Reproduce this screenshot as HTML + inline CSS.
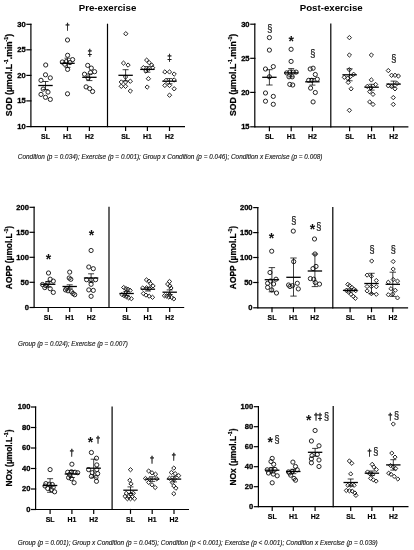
<!DOCTYPE html><html><head><meta charset="utf-8"><title>Figure</title><style>html,body{margin:0;padding:0;background:#fff;}svg{display:block}</style></head><body>
<svg width="414" height="550" viewBox="0 0 414 550">
<rect width="414" height="550" fill="#fff"/>
<text x="78.7" y="11" font-family='"Liberation Sans", Arial, sans-serif' font-weight="bold" font-size="9.7" fill="#000">Pre-exercise</text>
<text x="299.7" y="10.9" font-family='"Liberation Sans", Arial, sans-serif' font-weight="bold" font-size="9.7" fill="#000">Post-exercise</text>
<g stroke="#000" stroke-width="1.2" fill="none" stroke-linecap="square">
<path d="M30.9 24.3V126.6H184.4"/>
<path d="M107.5 24.3V126.6"/>
<path d="M26.9 24.3H30.9"/>
<path d="M26.9 49.8H30.9"/>
<path d="M26.9 75.4H30.9"/>
<path d="M26.9 100.9H30.9"/>
<path d="M26.9 126.6H30.9"/>
<path d="M45.5 126.6V130.4"/>
<path d="M67.5 126.6V130.4"/>
<path d="M89.4 126.6V130.4"/>
<path d="M125.6 126.6V130.4"/>
<path d="M147.4 126.6V130.4"/>
<path d="M169.5 126.6V130.4"/>
</g>
<g font-family='"Liberation Sans", Arial, sans-serif' font-weight="bold" font-size="7.2" fill="#000" stroke="#000" stroke-width="0.2">
<text x="25.7" y="26.7" text-anchor="end" font-size="7.6" stroke-width="0.3">30</text>
<text x="25.7" y="52.199999999999996" text-anchor="end" font-size="7.6" stroke-width="0.3">25</text>
<text x="25.7" y="77.80000000000001" text-anchor="end" font-size="7.6" stroke-width="0.3">20</text>
<text x="25.7" y="103.30000000000001" text-anchor="end" font-size="7.6" stroke-width="0.3">15</text>
<text x="25.7" y="129.0" text-anchor="end" font-size="7.6" stroke-width="0.3">10</text>
<text transform="translate(45.5,139.20) scale(0.9,1)" text-anchor="middle" font-size="7.7">SL</text>
<text transform="translate(67.5,139.20) scale(0.9,1)" text-anchor="middle" font-size="7.7">H1</text>
<text transform="translate(89.4,139.20) scale(0.9,1)" text-anchor="middle" font-size="7.7">H2</text>
<text transform="translate(125.6,139.20) scale(0.9,1)" text-anchor="middle" font-size="7.7">SL</text>
<text transform="translate(147.4,139.20) scale(0.9,1)" text-anchor="middle" font-size="7.7">H1</text>
<text transform="translate(169.5,139.20) scale(0.9,1)" text-anchor="middle" font-size="7.7">H2</text>
</g>
<text transform="translate(12.2,75.0) rotate(-90)" text-anchor="middle" font-family='"Liberation Sans", Arial, sans-serif' font-weight="bold" font-size="8.7" fill="#000" stroke="#000" stroke-width="0.22">SOD (µmol.L<tspan dy="-4.1" font-size="5.2">-1</tspan><tspan dy="4.1">.min</tspan><tspan dy="-4.1" font-size="5.2">-1</tspan><tspan dy="4.1">)</tspan></text>
<g fill="none" stroke="#1a1a1a" stroke-width="0.95">
<circle cx="45.7" cy="65.0" r="2.1"/>
<circle cx="45.5" cy="74.8" r="2.1"/>
<circle cx="50.3" cy="77.9" r="2.1"/>
<circle cx="41.0" cy="80.3" r="2.1"/>
<circle cx="43.2" cy="89.1" r="2.1"/>
<circle cx="48.0" cy="92.1" r="2.1"/>
<circle cx="41.0" cy="94.4" r="2.1"/>
<circle cx="45.5" cy="97.3" r="2.1"/>
<circle cx="50.3" cy="99.4" r="2.1"/>
</g>
<g stroke="#000" fill="none">
<path stroke-width="0.75" d="M45.5 81.5V89.5M42.5 81.5H48.5M42.5 89.5H48.5"/>
<path stroke-width="1.3" d="M38.3 85.5H52.7"/>
</g>
<g fill="none" stroke="#1a1a1a" stroke-width="0.95">
<circle cx="67.5" cy="40.0" r="2.1"/>
<circle cx="67.6" cy="55.3" r="2.1"/>
<circle cx="72.6" cy="59.6" r="2.1"/>
<circle cx="62.3" cy="62.0" r="2.1"/>
<circle cx="66.3" cy="61.6" r="2.1"/>
<circle cx="70.0" cy="62.6" r="2.1"/>
<circle cx="64.8" cy="64.2" r="2.1"/>
<circle cx="67.6" cy="69.4" r="2.1"/>
<circle cx="67.5" cy="93.8" r="2.1"/>
</g>
<g stroke="#000" fill="none">
<path stroke-width="0.75" d="M67.5 58.2V67.3M64.5 58.2H70.5M64.5 67.3H70.5"/>
<path stroke-width="1.3" d="M60.3 63.3H74.7"/>
</g>
<text x="65.34" y="29.72" font-family='"Liberation Sans", Arial, sans-serif' font-weight="normal" font-size="8.2" fill="#111" stroke="#111" stroke-width="0.35">†</text>
<g fill="none" stroke="#1a1a1a" stroke-width="0.95">
<circle cx="87.7" cy="65.4" r="2.1"/>
<circle cx="91.3" cy="68.1" r="2.1"/>
<circle cx="94.6" cy="71.7" r="2.1"/>
<circle cx="90.5" cy="72.6" r="2.1"/>
<circle cx="84.5" cy="74.2" r="2.1"/>
<circle cx="88.1" cy="78.0" r="2.1"/>
<circle cx="86.1" cy="86.9" r="2.1"/>
<circle cx="89.7" cy="88.6" r="2.1"/>
<circle cx="92.6" cy="91.5" r="2.1"/>
</g>
<g stroke="#000" fill="none">
<path stroke-width="0.75" d="M89.4 74.0V80.6M86.4 74.0H92.4M86.4 80.6H92.4"/>
<path stroke-width="1.3" d="M82.2 77.3H96.60000000000001"/>
</g>
<text x="87.45" y="55.82" font-family='"Liberation Sans", Arial, sans-serif' font-weight="normal" font-size="8.2" fill="#111" stroke="#111" stroke-width="0.35">‡</text>
<g fill="none" stroke="#1a1a1a" stroke-width="0.95">
<path d="M125.8 31.6L128.0 33.7L125.8 35.9L123.6 33.7Z"/>
<path d="M123.5 61.0L125.7 63.1L123.5 65.2L121.3 63.1Z"/>
<path d="M128.1 62.9L130.2 65.1L128.1 67.2L125.9 65.1Z"/>
<path d="M125.5 74.8L127.7 77.0L125.5 79.2L123.3 77.0Z"/>
<path d="M130.3 79.0L132.5 81.2L130.3 83.4L128.2 81.2Z"/>
<path d="M121.3 79.8L123.5 82.0L121.3 84.2L119.1 82.0Z"/>
<path d="M125.5 79.8L127.7 82.0L125.5 84.2L123.3 82.0Z"/>
<path d="M121.3 84.1L123.5 86.3L121.3 88.5L119.1 86.3Z"/>
<path d="M125.5 84.1L127.7 86.3L125.5 88.5L123.3 86.3Z"/>
<path d="M130.3 88.8L132.5 91.0L130.3 93.2L128.2 91.0Z"/>
</g>
<g stroke="#000" fill="none">
<path stroke-width="0.75" d="M125.6 69.7V80.9M122.6 69.7H128.6M122.6 80.9H128.6"/>
<path stroke-width="1.3" d="M118.39999999999999 75.3H132.79999999999998"/>
</g>
<g fill="none" stroke="#1a1a1a" stroke-width="0.95">
<path d="M146.7 58.0L148.8 60.1L146.7 62.2L144.5 60.1Z"/>
<path d="M149.2 60.5L151.3 62.6L149.2 64.8L147.0 62.6Z"/>
<path d="M151.7 62.9L153.8 65.1L151.7 67.2L149.5 65.1Z"/>
<path d="M152.6 65.5L154.8 67.7L152.6 69.9L150.4 67.7Z"/>
<path d="M143.3 65.5L145.5 67.7L143.3 69.9L141.2 67.7Z"/>
<path d="M148.0 67.3L150.2 69.5L148.0 71.7L145.8 69.5Z"/>
<path d="M145.8 68.9L148.0 71.1L145.8 73.2L143.7 71.1Z"/>
<path d="M148.4 76.5L150.6 78.7L148.4 80.9L146.2 78.7Z"/>
<path d="M147.2 84.9L149.3 87.1L147.2 89.2L145.0 87.1Z"/>
</g>
<g stroke="#000" fill="none">
<path stroke-width="0.75" d="M147.4 66.6V72.2M144.4 66.6H150.4M144.4 72.2H150.4"/>
<path stroke-width="1.3" d="M140.20000000000002 69.4H154.6"/>
</g>
<g fill="none" stroke="#1a1a1a" stroke-width="0.95">
<path d="M164.8 69.8L167.0 71.9L164.8 74.1L162.7 71.9Z"/>
<path d="M169.5 69.8L171.7 71.9L169.5 74.1L167.3 71.9Z"/>
<path d="M174.2 71.9L176.3 74.1L174.2 76.2L172.0 74.1Z"/>
<path d="M174.2 77.8L176.3 80.0L174.2 82.2L172.0 80.0Z"/>
<path d="M166.0 78.2L168.2 80.4L166.0 82.6L163.8 80.4Z"/>
<path d="M164.8 83.2L167.0 85.4L164.8 87.6L162.7 85.4Z"/>
<path d="M169.5 83.2L171.7 85.4L169.5 87.6L167.3 85.4Z"/>
<path d="M174.2 86.6L176.3 88.8L174.2 91.0L172.0 88.8Z"/>
<path d="M169.5 93.0L171.7 95.2L169.5 97.4L167.3 95.2Z"/>
</g>
<g stroke="#000" fill="none">
<path stroke-width="0.75" d="M169.5 78.6V83.8M166.5 78.6H172.5M166.5 83.8H172.5"/>
<path stroke-width="1.3" d="M162.3 81.2H176.7"/>
</g>
<text x="167.34" y="61.32" font-family='"Liberation Sans", Arial, sans-serif' font-weight="normal" font-size="8.2" fill="#111" stroke="#111" stroke-width="0.35">‡</text>
<g stroke="#000" stroke-width="1.2" fill="none" stroke-linecap="square">
<path d="M254.8 24.2V126.8H407.8"/>
<path d="M330.8 24.2V126.8"/>
<path d="M250.8 24.2H254.8"/>
<path d="M250.8 58.3H254.8"/>
<path d="M250.8 92.4H254.8"/>
<path d="M250.8 126.8H254.8"/>
<path d="M269.4 126.8V130.6"/>
<path d="M291.2 126.8V130.6"/>
<path d="M312.4 126.8V130.6"/>
<path d="M349.6 126.8V130.6"/>
<path d="M371.6 126.8V130.6"/>
<path d="M393.6 126.8V130.6"/>
</g>
<g font-family='"Liberation Sans", Arial, sans-serif' font-weight="bold" font-size="7.2" fill="#000" stroke="#000" stroke-width="0.2">
<text x="249.60000000000002" y="26.599999999999998" text-anchor="end" font-size="7.6" stroke-width="0.3">30</text>
<text x="249.60000000000002" y="60.699999999999996" text-anchor="end" font-size="7.6" stroke-width="0.3">25</text>
<text x="249.60000000000002" y="94.80000000000001" text-anchor="end" font-size="7.6" stroke-width="0.3">20</text>
<text x="249.60000000000002" y="129.2" text-anchor="end" font-size="7.6" stroke-width="0.3">15</text>
<text transform="translate(269.4,139.40) scale(0.9,1)" text-anchor="middle" font-size="7.7">SL</text>
<text transform="translate(291.2,139.40) scale(0.9,1)" text-anchor="middle" font-size="7.7">H1</text>
<text transform="translate(312.4,139.40) scale(0.9,1)" text-anchor="middle" font-size="7.7">H2</text>
<text transform="translate(349.6,139.40) scale(0.9,1)" text-anchor="middle" font-size="7.7">SL</text>
<text transform="translate(371.6,139.40) scale(0.9,1)" text-anchor="middle" font-size="7.7">H1</text>
<text transform="translate(393.6,139.40) scale(0.9,1)" text-anchor="middle" font-size="7.7">H2</text>
</g>
<text transform="translate(236.2,74.9) rotate(-90)" text-anchor="middle" font-family='"Liberation Sans", Arial, sans-serif' font-weight="bold" font-size="8.7" fill="#000" stroke="#000" stroke-width="0.22">SOD (µmol.L<tspan dy="-4.1" font-size="5.2">-1</tspan><tspan dy="4.1">.min</tspan><tspan dy="-4.1" font-size="5.2">-1</tspan><tspan dy="4.1">)</tspan></text>
<g fill="none" stroke="#1a1a1a" stroke-width="0.95">
<circle cx="269.4" cy="37.6" r="2.1"/>
<circle cx="269.4" cy="50.1" r="2.1"/>
<circle cx="265.5" cy="69.0" r="2.1"/>
<circle cx="273.3" cy="66.6" r="2.1"/>
<circle cx="269.4" cy="76.8" r="2.1"/>
<circle cx="265.5" cy="93.0" r="2.1"/>
<circle cx="273.3" cy="96.4" r="2.1"/>
<circle cx="265.5" cy="101.2" r="2.1"/>
<circle cx="273.3" cy="104.3" r="2.1"/>
</g>
<g stroke="#000" fill="none">
<path stroke-width="0.75" d="M269.4 69.7V85.0M266.2 69.7H272.59999999999997M266.2 85.0H272.59999999999997"/>
<path stroke-width="1.3" d="M262.2 77.3H276.59999999999997"/>
</g>
<text transform="translate(267.37,31.91) scale(0.82,1)" font-family='"Liberation Sans", Arial, sans-serif' font-weight="normal" font-size="11.2" fill="#111" stroke="#111" stroke-width="0.2">§</text>
<g fill="none" stroke="#1a1a1a" stroke-width="0.95">
<circle cx="291.1" cy="49.3" r="2.1"/>
<circle cx="291.1" cy="61.4" r="2.1"/>
<circle cx="286.7" cy="72.9" r="2.1"/>
<circle cx="289.8" cy="72.1" r="2.1"/>
<circle cx="293.3" cy="72.1" r="2.1"/>
<circle cx="296.1" cy="72.1" r="2.1"/>
<circle cx="289.0" cy="76.8" r="2.1"/>
<circle cx="292.2" cy="76.8" r="2.1"/>
<circle cx="289.8" cy="84.4" r="2.1"/>
<circle cx="292.7" cy="85.0" r="2.1"/>
</g>
<g stroke="#000" fill="none">
<path stroke-width="0.75" d="M291.2 68.6V76.8M288.2 68.6H294.2M288.2 76.8H294.2"/>
<path stroke-width="1.3" d="M284.0 72.9H298.4"/>
</g>
<text x="288.44" y="45.54" font-family='"Liberation Sans", Arial, sans-serif' font-weight="bold" font-size="14" fill="#111">*</text>
<g fill="none" stroke="#1a1a1a" stroke-width="0.95">
<circle cx="310.2" cy="69.0" r="2.1"/>
<circle cx="313.1" cy="68.2" r="2.1"/>
<circle cx="315.3" cy="74.5" r="2.1"/>
<circle cx="308.7" cy="80.3" r="2.1"/>
<circle cx="311.8" cy="80.3" r="2.1"/>
<circle cx="317.3" cy="79.2" r="2.1"/>
<circle cx="310.6" cy="88.1" r="2.1"/>
<circle cx="315.3" cy="92.5" r="2.1"/>
<circle cx="313.1" cy="101.9" r="2.1"/>
</g>
<g stroke="#000" fill="none">
<path stroke-width="0.75" d="M312.4 78.5V85.1M309.4 78.5H315.4M309.4 85.1H315.4"/>
<path stroke-width="1.3" d="M305.2 81.8H319.59999999999997"/>
</g>
<text transform="translate(310.27,56.91) scale(0.82,1)" font-family='"Liberation Sans", Arial, sans-serif' font-weight="normal" font-size="11.2" fill="#111" stroke="#111" stroke-width="0.2">§</text>
<g fill="none" stroke="#1a1a1a" stroke-width="0.95">
<path d="M349.4 35.5L351.5 37.6L349.4 39.8L347.2 37.6Z"/>
<path d="M349.4 52.9L351.5 55.0L349.4 57.1L347.2 55.0Z"/>
<path d="M349.4 67.5L351.5 69.7L349.4 71.9L347.2 69.7Z"/>
<path d="M353.6 72.1L355.8 74.3L353.6 76.5L351.5 74.3Z"/>
<path d="M344.3 75.1L346.4 77.3L344.3 79.5L342.2 77.3Z"/>
<path d="M347.7 76.0L349.8 78.2L347.7 80.4L345.6 78.2Z"/>
<path d="M350.5 74.3L352.6 76.5L350.5 78.7L348.4 76.5Z"/>
<path d="M348.2 80.2L350.3 82.4L348.2 84.6L346.1 82.4Z"/>
<path d="M351.1 86.6L353.2 88.8L351.1 91.0L349.0 88.8Z"/>
<path d="M349.4 108.1L351.5 110.3L349.4 112.5L347.2 110.3Z"/>
</g>
<g stroke="#000" fill="none">
<path stroke-width="0.75" d="M349.6 68.8V80.8M346.6 68.8H352.6M346.6 80.8H352.6"/>
<path stroke-width="1.3" d="M342.40000000000003 74.8H356.8"/>
</g>
<g fill="none" stroke="#1a1a1a" stroke-width="0.95">
<path d="M371.4 52.9L373.5 55.0L371.4 57.1L369.2 55.0Z"/>
<path d="M371.4 77.8L373.5 79.9L371.4 82.1L369.2 79.9Z"/>
<path d="M375.6 82.3L377.8 84.5L375.6 86.7L373.5 84.5Z"/>
<path d="M367.3 84.2L369.4 86.4L367.3 88.6L365.2 86.4Z"/>
<path d="M371.0 85.6L373.1 87.8L371.0 90.0L368.9 87.8Z"/>
<path d="M369.7 89.5L371.8 91.7L369.7 93.9L367.6 91.7Z"/>
<path d="M373.0 92.1L375.1 94.3L373.0 96.5L370.9 94.3Z"/>
<path d="M369.7 99.8L371.8 101.9L369.7 104.1L367.6 101.9Z"/>
<path d="M373.0 102.2L375.1 104.4L373.0 106.6L370.9 104.4Z"/>
</g>
<g stroke="#000" fill="none">
<path stroke-width="0.75" d="M371.6 84.3V90.1M368.6 84.3H374.6M368.6 90.1H374.6"/>
<path stroke-width="1.3" d="M364.40000000000003 87.2H378.8"/>
</g>
<g fill="none" stroke="#1a1a1a" stroke-width="0.95">
<path d="M388.3 68.4L390.4 70.6L388.3 72.8L386.2 70.6Z"/>
<path d="M391.6 73.1L393.8 75.3L391.6 77.5L389.5 75.3Z"/>
<path d="M395.0 73.1L397.1 75.3L395.0 77.5L392.9 75.3Z"/>
<path d="M398.4 73.8L400.5 76.0L398.4 78.2L396.2 76.0Z"/>
<path d="M388.3 83.6L390.4 85.8L388.3 88.0L386.2 85.8Z"/>
<path d="M391.6 84.4L393.8 86.6L391.6 88.8L389.5 86.6Z"/>
<path d="M395.0 86.6L397.1 88.8L395.0 91.0L392.9 88.8Z"/>
<path d="M393.3 95.4L395.4 97.6L393.3 99.8L391.2 97.6Z"/>
<path d="M393.3 102.2L395.4 104.4L393.3 106.6L391.2 104.4Z"/>
<path d="M397.0 81.3L399.1 83.5L397.0 85.7L394.9 83.5Z"/>
</g>
<g stroke="#000" fill="none">
<path stroke-width="0.75" d="M393.6 81.1V87.1M390.6 81.1H396.6M390.6 87.1H396.6"/>
<path stroke-width="1.3" d="M386.40000000000003 84.1H400.8"/>
</g>
<text transform="translate(391.37,61.81) scale(0.82,1)" font-family='"Liberation Sans", Arial, sans-serif' font-weight="normal" font-size="11.2" fill="#111" stroke="#111" stroke-width="0.2">§</text>
<g stroke="#000" stroke-width="1.2" fill="none" stroke-linecap="square">
<path d="M34.1 207.3V307.5H183.6"/>
<path d="M109.0 207.3V307.5"/>
<path d="M30.1 207.3H34.1"/>
<path d="M30.1 232.3H34.1"/>
<path d="M30.1 257.3H34.1"/>
<path d="M30.1 282.3H34.1"/>
<path d="M30.1 307.5H34.1"/>
<path d="M48.2 307.5V311.3"/>
<path d="M69.7 307.5V311.3"/>
<path d="M91.1 307.5V311.3"/>
<path d="M126.6 307.5V311.3"/>
<path d="M147.9 307.5V311.3"/>
<path d="M169.7 307.5V311.3"/>
</g>
<g font-family='"Liberation Sans", Arial, sans-serif' font-weight="bold" font-size="7.2" fill="#000" stroke="#000" stroke-width="0.2">
<text x="28.900000000000002" y="209.70000000000002" text-anchor="end" font-size="7.6" stroke-width="0.3">200</text>
<text x="28.900000000000002" y="234.70000000000002" text-anchor="end" font-size="7.6" stroke-width="0.3">150</text>
<text x="28.900000000000002" y="259.7" text-anchor="end" font-size="7.6" stroke-width="0.3">100</text>
<text x="28.900000000000002" y="284.7" text-anchor="end" font-size="7.6" stroke-width="0.3">50</text>
<text x="28.900000000000002" y="309.9" text-anchor="end" font-size="7.6" stroke-width="0.3">0</text>
<text transform="translate(48.2,320.10) scale(0.9,1)" text-anchor="middle" font-size="7.7">SL</text>
<text transform="translate(69.7,320.10) scale(0.9,1)" text-anchor="middle" font-size="7.7">H1</text>
<text transform="translate(91.1,320.10) scale(0.9,1)" text-anchor="middle" font-size="7.7">H2</text>
<text transform="translate(126.6,320.10) scale(0.9,1)" text-anchor="middle" font-size="7.7">SL</text>
<text transform="translate(147.9,320.10) scale(0.9,1)" text-anchor="middle" font-size="7.7">H1</text>
<text transform="translate(169.7,320.10) scale(0.9,1)" text-anchor="middle" font-size="7.7">H2</text>
</g>
<text transform="translate(12.2,257.5) rotate(-90)" text-anchor="middle" font-family='"Liberation Sans", Arial, sans-serif' font-weight="bold" font-size="8.4" fill="#000" stroke="#000" stroke-width="0.22">AOPP (µmol.L<tspan dy="-4.1" font-size="5.2">-1</tspan><tspan dy="4.1">)</tspan></text>
<g fill="none" stroke="#1a1a1a" stroke-width="0.95">
<circle cx="48.5" cy="273.0" r="2.1"/>
<circle cx="50.2" cy="279.2" r="2.1"/>
<circle cx="53.3" cy="281.1" r="2.1"/>
<circle cx="42.5" cy="284.5" r="2.1"/>
<circle cx="45.8" cy="285.6" r="2.1"/>
<circle cx="47.8" cy="283.2" r="2.1"/>
<circle cx="44.8" cy="287.6" r="2.1"/>
<circle cx="50.2" cy="288.7" r="2.1"/>
<circle cx="53.3" cy="292.4" r="2.1"/>
</g>
<g stroke="#000" fill="none">
<path stroke-width="0.75" d="M48.2 281.6V287.0M45.2 281.6H51.2M45.2 287.0H51.2"/>
<path stroke-width="1.3" d="M41.0 284.3H55.400000000000006"/>
</g>
<text x="45.74" y="263.84" font-family='"Liberation Sans", Arial, sans-serif' font-weight="bold" font-size="14" fill="#111">*</text>
<g fill="none" stroke="#1a1a1a" stroke-width="0.95">
<circle cx="69.7" cy="272.1" r="2.1"/>
<circle cx="69.2" cy="278.0" r="2.1"/>
<circle cx="70.8" cy="279.3" r="2.1"/>
<circle cx="65.5" cy="289.9" r="2.1"/>
<circle cx="68.0" cy="290.8" r="2.1"/>
<circle cx="71.4" cy="291.6" r="2.1"/>
<circle cx="73.0" cy="293.5" r="2.1"/>
<circle cx="74.7" cy="294.7" r="2.1"/>
<circle cx="66.8" cy="288.5" r="2.1"/>
</g>
<g stroke="#000" fill="none">
<path stroke-width="0.75" d="M69.7 284.8V288.2M66.7 284.8H72.7M66.7 288.2H72.7"/>
<path stroke-width="1.3" d="M62.5 286.5H76.9"/>
</g>
<g fill="none" stroke="#1a1a1a" stroke-width="0.95">
<circle cx="91.1" cy="250.5" r="2.1"/>
<circle cx="88.8" cy="267.0" r="2.1"/>
<circle cx="93.3" cy="268.7" r="2.1"/>
<circle cx="86.6" cy="279.7" r="2.1"/>
<circle cx="91.1" cy="279.7" r="2.1"/>
<circle cx="95.6" cy="279.7" r="2.1"/>
<circle cx="91.1" cy="284.3" r="2.1"/>
<circle cx="88.8" cy="289.9" r="2.1"/>
<circle cx="93.3" cy="290.4" r="2.1"/>
<circle cx="91.1" cy="296.3" r="2.1"/>
</g>
<g stroke="#000" fill="none">
<path stroke-width="0.75" d="M91.1 273.8V282.2M88.1 273.8H94.1M88.1 282.2H94.1"/>
<path stroke-width="1.3" d="M83.89999999999999 278.0H98.3"/>
</g>
<text x="88.64" y="239.64" font-family='"Liberation Sans", Arial, sans-serif' font-weight="bold" font-size="14" fill="#111">*</text>
<g fill="none" stroke="#1a1a1a" stroke-width="0.95">
<path d="M123.7 285.4L125.9 287.5L123.7 289.6L121.5 287.5Z"/>
<path d="M125.9 286.5L128.1 288.6L125.9 290.8L123.8 288.6Z"/>
<path d="M128.0 287.2L130.2 289.3L128.0 291.4L125.8 289.3Z"/>
<path d="M130.2 288.2L132.3 290.4L130.2 292.5L128.0 290.4Z"/>
<path d="M122.1 292.5L124.2 294.6L122.1 296.8L119.9 294.6Z"/>
<path d="M124.2 293.6L126.4 295.7L124.2 297.8L122.0 295.7Z"/>
<path d="M126.4 294.6L128.6 296.7L126.4 298.8L124.2 296.7Z"/>
<path d="M128.6 295.7L130.8 297.8L128.6 299.9L126.4 297.8Z"/>
<path d="M131.3 296.6L133.5 298.7L131.3 300.8L129.2 298.7Z"/>
<path d="M126.0 289.9L128.2 292.0L126.0 294.1L123.8 292.0Z"/>
</g>
<g stroke="#000" fill="none">
<path stroke-width="0.75" d="M126.6 291.6V295.4M123.6 291.6H129.6M123.6 295.4H129.6"/>
<path stroke-width="1.3" d="M119.39999999999999 293.5H133.79999999999998"/>
</g>
<g fill="none" stroke="#1a1a1a" stroke-width="0.95">
<path d="M146.5 277.8L148.7 279.9L146.5 282.0L144.3 279.9Z"/>
<path d="M149.0 279.1L151.2 281.2L149.0 283.3L146.8 281.2Z"/>
<path d="M150.3 281.4L152.5 283.5L150.3 285.6L148.2 283.5Z"/>
<path d="M153.0 283.8L155.2 285.9L153.0 288.0L150.8 285.9Z"/>
<path d="M142.7 285.9L144.8 288.0L142.7 290.1L140.5 288.0Z"/>
<path d="M146.5 285.7L148.7 287.8L146.5 289.9L144.3 287.8Z"/>
<path d="M149.5 286.4L151.7 288.5L149.5 290.6L147.3 288.5Z"/>
<path d="M143.3 291.4L145.5 293.5L143.3 295.6L141.2 293.5Z"/>
<path d="M146.0 293.0L148.2 295.1L146.0 297.2L143.8 295.1Z"/>
<path d="M149.2 294.1L151.3 296.2L149.2 298.3L147.0 296.2Z"/>
<path d="M152.5 295.2L154.7 297.3L152.5 299.4L150.3 297.3Z"/>
</g>
<g stroke="#000" fill="none">
<path stroke-width="0.75" d="M147.9 287.4V291.0M144.9 287.4H150.9M144.9 291.0H150.9"/>
<path stroke-width="1.3" d="M140.70000000000002 289.2H155.1"/>
</g>
<g fill="none" stroke="#1a1a1a" stroke-width="0.95">
<path d="M169.5 279.4L171.7 281.5L169.5 283.6L167.3 281.5Z"/>
<path d="M167.7 282.0L169.8 284.1L167.7 286.2L165.5 284.1Z"/>
<path d="M169.9 283.8L172.1 285.9L169.9 288.0L167.8 285.9Z"/>
<path d="M170.9 285.9L173.1 288.0L170.9 290.1L168.8 288.0Z"/>
<path d="M164.4 293.6L166.6 295.7L164.4 297.8L162.2 295.7Z"/>
<path d="M166.6 293.9L168.8 296.0L166.6 298.1L164.4 296.0Z"/>
<path d="M168.8 295.0L171.0 297.1L168.8 299.2L166.7 297.1Z"/>
<path d="M171.7 295.4L173.8 297.5L171.7 299.6L169.5 297.5Z"/>
<path d="M173.8 296.8L176.0 298.9L173.8 301.0L171.7 298.9Z"/>
<path d="M169.5 292.5L171.7 294.6L169.5 296.8L167.3 294.6Z"/>
</g>
<g stroke="#000" fill="none">
<path stroke-width="0.75" d="M169.7 289.9V294.5M166.7 289.9H172.7M166.7 294.5H172.7"/>
<path stroke-width="1.3" d="M162.5 292.2H176.89999999999998"/>
</g>
<g stroke="#000" stroke-width="1.2" fill="none" stroke-linecap="square">
<path d="M257.8 207.6V307.8H407.5"/>
<path d="M332.8 207.6V307.8"/>
<path d="M253.8 207.6H257.8"/>
<path d="M253.8 232.6H257.8"/>
<path d="M253.8 257.5H257.8"/>
<path d="M253.8 282.5H257.8"/>
<path d="M253.8 307.8H257.8"/>
<path d="M272.0 307.8V311.6"/>
<path d="M293.4 307.8V311.6"/>
<path d="M314.7 307.8V311.6"/>
<path d="M350.1 307.8V311.6"/>
<path d="M371.5 307.8V311.6"/>
<path d="M392.8 307.8V311.6"/>
</g>
<g font-family='"Liberation Sans", Arial, sans-serif' font-weight="bold" font-size="7.2" fill="#000" stroke="#000" stroke-width="0.2">
<text x="252.60000000000002" y="210.0" text-anchor="end" font-size="7.6" stroke-width="0.3">200</text>
<text x="252.60000000000002" y="235.0" text-anchor="end" font-size="7.6" stroke-width="0.3">150</text>
<text x="252.60000000000002" y="259.9" text-anchor="end" font-size="7.6" stroke-width="0.3">100</text>
<text x="252.60000000000002" y="284.9" text-anchor="end" font-size="7.6" stroke-width="0.3">50</text>
<text x="252.60000000000002" y="310.2" text-anchor="end" font-size="7.6" stroke-width="0.3">0</text>
<text transform="translate(272.0,320.40) scale(0.9,1)" text-anchor="middle" font-size="7.7">SL</text>
<text transform="translate(293.4,320.40) scale(0.9,1)" text-anchor="middle" font-size="7.7">H1</text>
<text transform="translate(314.7,320.40) scale(0.9,1)" text-anchor="middle" font-size="7.7">H2</text>
<text transform="translate(350.1,320.40) scale(0.9,1)" text-anchor="middle" font-size="7.7">SL</text>
<text transform="translate(371.5,320.40) scale(0.9,1)" text-anchor="middle" font-size="7.7">H1</text>
<text transform="translate(392.8,320.40) scale(0.9,1)" text-anchor="middle" font-size="7.7">H2</text>
</g>
<text transform="translate(236.0,257.5) rotate(-90)" text-anchor="middle" font-family='"Liberation Sans", Arial, sans-serif' font-weight="bold" font-size="8.4" fill="#000" stroke="#000" stroke-width="0.22">AOPP (µmol.L<tspan dy="-4.1" font-size="5.2">-1</tspan><tspan dy="4.1">)</tspan></text>
<g fill="none" stroke="#1a1a1a" stroke-width="0.95">
<circle cx="271.7" cy="251.2" r="2.1"/>
<circle cx="270.0" cy="272.5" r="2.1"/>
<circle cx="276.0" cy="279.2" r="2.1"/>
<circle cx="267.6" cy="283.3" r="2.1"/>
<circle cx="273.6" cy="284.0" r="2.1"/>
<circle cx="267.6" cy="287.4" r="2.1"/>
<circle cx="271.7" cy="289.9" r="2.1"/>
<circle cx="276.5" cy="293.0" r="2.1"/>
<circle cx="270.5" cy="281.0" r="2.1"/>
</g>
<g stroke="#000" fill="none">
<path stroke-width="0.75" d="M271.9 267.6V291.8M268.7 267.6H275.09999999999997M268.7 291.8H275.09999999999997"/>
<path stroke-width="1.3" d="M264.7 279.7H279.09999999999997"/>
</g>
<text x="268.84" y="243.24" font-family='"Liberation Sans", Arial, sans-serif' font-weight="bold" font-size="14" fill="#111">*</text>
<g fill="none" stroke="#1a1a1a" stroke-width="0.95">
<circle cx="293.3" cy="231.1" r="2.1"/>
<circle cx="293.7" cy="261.6" r="2.1"/>
<circle cx="288.6" cy="285.0" r="2.1"/>
<circle cx="292.5" cy="285.7" r="2.1"/>
<circle cx="297.3" cy="283.3" r="2.1"/>
<circle cx="298.3" cy="288.9" r="2.1"/>
<circle cx="290.0" cy="286.5" r="2.1"/>
</g>
<g stroke="#000" fill="none">
<path stroke-width="0.75" d="M293.5 258.0V296.1M290.3 258.0H296.7M290.3 296.1H296.7"/>
<path stroke-width="1.3" d="M286.3 277.3H300.7"/>
</g>
<text transform="translate(291.27,223.81) scale(0.82,1)" font-family='"Liberation Sans", Arial, sans-serif' font-weight="normal" font-size="11.2" fill="#111" stroke="#111" stroke-width="0.2">§</text>
<g fill="none" stroke="#1a1a1a" stroke-width="0.95">
<circle cx="314.5" cy="239.0" r="2.1"/>
<circle cx="315.0" cy="254.0" r="2.1"/>
<circle cx="316.0" cy="266.4" r="2.1"/>
<circle cx="313.0" cy="268.6" r="2.1"/>
<circle cx="310.4" cy="278.6" r="2.1"/>
<circle cx="313.7" cy="279.2" r="2.1"/>
<circle cx="315.3" cy="282.5" r="2.1"/>
<circle cx="319.5" cy="284.1" r="2.1"/>
</g>
<g stroke="#000" fill="none">
<path stroke-width="0.75" d="M314.9 254.0V286.6M311.7 254.0H318.09999999999997M311.7 286.6H318.09999999999997"/>
<path stroke-width="1.3" d="M307.7 271.0H322.09999999999997"/>
</g>
<text x="309.74" y="233.64" font-family='"Liberation Sans", Arial, sans-serif' font-weight="bold" font-size="14" fill="#111">*</text>
<text transform="translate(316.27,229.61) scale(0.82,1)" font-family='"Liberation Sans", Arial, sans-serif' font-weight="normal" font-size="11.2" fill="#111" stroke="#111" stroke-width="0.2">§</text>
<g fill="none" stroke="#1a1a1a" stroke-width="0.95">
<path d="M347.8 282.2L349.9 284.4L347.8 286.5L345.7 284.4Z"/>
<path d="M349.7 283.6L351.8 285.7L349.7 287.8L347.6 285.7Z"/>
<path d="M351.8 285.2L353.9 287.4L351.8 289.5L349.7 287.4Z"/>
<path d="M353.8 287.1L355.9 289.2L353.8 291.3L351.7 289.2Z"/>
<path d="M355.7 288.5L357.8 290.6L355.7 292.8L353.6 290.6Z"/>
<path d="M346.3 288.2L348.4 290.4L346.3 292.5L344.2 290.4Z"/>
<path d="M348.6 290.1L350.8 292.2L348.6 294.3L346.5 292.2Z"/>
<path d="M351.0 292.2L353.1 294.3L351.0 296.4L348.9 294.3Z"/>
<path d="M353.3 294.2L355.4 296.4L353.3 298.5L351.2 296.4Z"/>
<path d="M355.4 296.2L357.5 298.3L355.4 300.4L353.2 298.3Z"/>
</g>
<g stroke="#000" fill="none">
<path stroke-width="0.75" d="M350.1 288.8V292.0M347.1 288.8H353.1M347.1 292.0H353.1"/>
<path stroke-width="1.3" d="M342.90000000000003 290.4H357.3"/>
</g>
<g fill="none" stroke="#1a1a1a" stroke-width="0.95">
<path d="M371.7 258.9L373.8 261.0L371.7 263.1L369.6 261.0Z"/>
<path d="M367.1 273.0L369.2 275.1L367.1 277.2L365.0 275.1Z"/>
<path d="M371.4 274.1L373.5 276.2L371.4 278.3L369.2 276.2Z"/>
<path d="M376.3 278.4L378.4 280.5L376.3 282.6L374.2 280.5Z"/>
<path d="M367.1 284.4L369.2 286.5L367.1 288.6L365.0 286.5Z"/>
<path d="M371.4 284.4L373.5 286.5L371.4 288.6L369.2 286.5Z"/>
<path d="M376.3 284.6L378.4 286.7L376.3 288.8L374.2 286.7Z"/>
<path d="M367.1 288.8L369.2 290.9L367.1 293.0L365.0 290.9Z"/>
<path d="M371.4 291.5L373.5 293.6L371.4 295.8L369.2 293.6Z"/>
<path d="M376.3 292.2L378.4 294.3L376.3 296.4L374.2 294.3Z"/>
</g>
<g stroke="#000" fill="none">
<path stroke-width="0.75" d="M371.5 273.3V293.7M368.3 273.3H374.7M368.3 293.7H374.7"/>
<path stroke-width="1.3" d="M364.3 283.5H378.7"/>
</g>
<text transform="translate(369.47,253.11) scale(0.82,1)" font-family='"Liberation Sans", Arial, sans-serif' font-weight="normal" font-size="11.2" fill="#111" stroke="#111" stroke-width="0.2">§</text>
<g fill="none" stroke="#1a1a1a" stroke-width="0.95">
<path d="M393.2 259.4L395.3 261.5L393.2 263.6L391.1 261.5Z"/>
<path d="M393.2 267.0L395.3 269.1L393.2 271.2L391.1 269.1Z"/>
<path d="M393.2 277.4L395.3 279.5L393.2 281.6L391.1 279.5Z"/>
<path d="M388.3 280.1L390.4 282.2L388.3 284.3L386.2 282.2Z"/>
<path d="M397.5 279.0L399.6 281.1L397.5 283.2L395.4 281.1Z"/>
<path d="M391.0 286.6L393.1 288.7L391.0 290.8L388.9 288.7Z"/>
<path d="M395.3 288.2L397.4 290.3L395.3 292.4L393.2 290.3Z"/>
<path d="M388.3 292.6L390.4 294.7L388.3 296.8L386.2 294.7Z"/>
<path d="M392.6 292.0L394.8 294.1L392.6 296.2L390.5 294.1Z"/>
<path d="M397.5 295.8L399.6 297.9L397.5 300.0L395.4 297.9Z"/>
</g>
<g stroke="#000" fill="none">
<path stroke-width="0.75" d="M392.8 272.2V296.4M389.6 272.2H396.0M389.6 296.4H396.0"/>
<path stroke-width="1.3" d="M385.6 284.3H400.0"/>
</g>
<text transform="translate(390.77,252.61) scale(0.82,1)" font-family='"Liberation Sans", Arial, sans-serif' font-weight="normal" font-size="11.2" fill="#111" stroke="#111" stroke-width="0.2">§</text>
<g stroke="#000" stroke-width="1.2" fill="none" stroke-linecap="square">
<path d="M35.6 407.0V509.5H188.4"/>
<path d="M112.1 407.0V509.5"/>
<path d="M31.6 407.0H35.6"/>
<path d="M31.6 427.5H35.6"/>
<path d="M31.6 448.0H35.6"/>
<path d="M31.6 468.5H35.6"/>
<path d="M31.6 489.0H35.6"/>
<path d="M31.6 509.5H35.6"/>
<path d="M50.1 509.5V513.3"/>
<path d="M71.9 509.5V513.3"/>
<path d="M93.7 509.5V513.3"/>
<path d="M130.5 509.5V513.3"/>
<path d="M152.2 509.5V513.3"/>
<path d="M174.0 509.5V513.3"/>
</g>
<g font-family='"Liberation Sans", Arial, sans-serif' font-weight="bold" font-size="7.2" fill="#000" stroke="#000" stroke-width="0.2">
<text x="30.400000000000002" y="409.4" text-anchor="end" font-size="7.6" stroke-width="0.3">100</text>
<text x="30.400000000000002" y="429.9" text-anchor="end" font-size="7.6" stroke-width="0.3">80</text>
<text x="30.400000000000002" y="450.4" text-anchor="end" font-size="7.6" stroke-width="0.3">60</text>
<text x="30.400000000000002" y="470.9" text-anchor="end" font-size="7.6" stroke-width="0.3">40</text>
<text x="30.400000000000002" y="491.4" text-anchor="end" font-size="7.6" stroke-width="0.3">20</text>
<text x="30.400000000000002" y="511.9" text-anchor="end" font-size="7.6" stroke-width="0.3">0</text>
<text transform="translate(50.1,522.10) scale(0.9,1)" text-anchor="middle" font-size="7.7">SL</text>
<text transform="translate(71.9,522.10) scale(0.9,1)" text-anchor="middle" font-size="7.7">H1</text>
<text transform="translate(93.7,522.10) scale(0.9,1)" text-anchor="middle" font-size="7.7">H2</text>
<text transform="translate(130.5,522.10) scale(0.9,1)" text-anchor="middle" font-size="7.7">SL</text>
<text transform="translate(152.2,522.10) scale(0.9,1)" text-anchor="middle" font-size="7.7">H1</text>
<text transform="translate(174.0,522.10) scale(0.9,1)" text-anchor="middle" font-size="7.7">H2</text>
</g>
<text transform="translate(12.4,458.0) rotate(-90)" text-anchor="middle" font-family='"Liberation Sans", Arial, sans-serif' font-weight="bold" font-size="8.4" fill="#000" stroke="#000" stroke-width="0.22">NOx (µmol.L<tspan dy="-4.1" font-size="5.2">-1</tspan><tspan dy="4.1">)</tspan></text>
<g fill="none" stroke="#1a1a1a" stroke-width="0.95">
<circle cx="50.1" cy="469.6" r="2.1"/>
<circle cx="45.9" cy="483.6" r="2.1"/>
<circle cx="49.2" cy="484.2" r="2.1"/>
<circle cx="52.3" cy="484.5" r="2.1"/>
<circle cx="45.0" cy="486.0" r="2.1"/>
<circle cx="53.2" cy="487.3" r="2.1"/>
<circle cx="47.7" cy="488.5" r="2.1"/>
<circle cx="51.4" cy="489.6" r="2.1"/>
<circle cx="54.6" cy="491.8" r="2.1"/>
</g>
<g stroke="#000" fill="none">
<path stroke-width="0.75" d="M50.1 478.7V492.3M47.1 478.7H53.1M47.1 492.3H53.1"/>
<path stroke-width="1.3" d="M42.9 485.5H57.300000000000004"/>
</g>
<g fill="none" stroke="#1a1a1a" stroke-width="0.95">
<circle cx="71.9" cy="464.2" r="2.1"/>
<circle cx="67.7" cy="472.2" r="2.1"/>
<circle cx="71.4" cy="471.8" r="2.1"/>
<circle cx="75.0" cy="472.2" r="2.1"/>
<circle cx="77.7" cy="472.7" r="2.1"/>
<circle cx="68.6" cy="477.6" r="2.1"/>
<circle cx="71.4" cy="478.7" r="2.1"/>
<circle cx="74.1" cy="482.7" r="2.1"/>
<circle cx="69.5" cy="474.5" r="2.1"/>
</g>
<g stroke="#000" fill="none">
<path stroke-width="0.75" d="M71.9 470.5V477.5M68.9 470.5H74.9M68.9 477.5H74.9"/>
<path stroke-width="1.3" d="M64.7 474.0H79.10000000000001"/>
</g>
<text x="69.45" y="456.02" font-family='"Liberation Sans", Arial, sans-serif' font-weight="normal" font-size="8.2" fill="#111" stroke="#111" stroke-width="0.35">†</text>
<g fill="none" stroke="#1a1a1a" stroke-width="0.95">
<circle cx="91.4" cy="452.5" r="2.1"/>
<circle cx="96.5" cy="458.2" r="2.1"/>
<circle cx="96.8" cy="464.9" r="2.1"/>
<circle cx="88.6" cy="469.6" r="2.1"/>
<circle cx="96.8" cy="469.6" r="2.1"/>
<circle cx="92.3" cy="472.7" r="2.1"/>
<circle cx="97.7" cy="473.6" r="2.1"/>
<circle cx="91.4" cy="476.4" r="2.1"/>
<circle cx="96.0" cy="477.3" r="2.1"/>
<circle cx="96.5" cy="481.3" r="2.1"/>
</g>
<g stroke="#000" fill="none">
<path stroke-width="0.75" d="M93.7 459.2V477.2M90.7 459.2H96.7M90.7 477.2H96.7"/>
<path stroke-width="1.3" d="M86.5 468.2H100.9"/>
</g>
<text x="87.74" y="446.84" font-family='"Liberation Sans", Arial, sans-serif' font-weight="bold" font-size="14" fill="#111">*</text>
<text x="95.75" y="442.82" font-family='"Liberation Sans", Arial, sans-serif' font-weight="normal" font-size="8.2" fill="#111" stroke="#111" stroke-width="0.35">†</text>
<g fill="none" stroke="#1a1a1a" stroke-width="0.95">
<path d="M130.5 467.6L132.7 469.7L130.5 471.8L128.3 469.7Z"/>
<path d="M129.8 478.2L132.0 480.3L129.8 482.4L127.7 480.3Z"/>
<path d="M131.0 481.7L133.2 483.8L131.0 485.9L128.8 483.8Z"/>
<path d="M126.3 491.2L128.4 493.3L126.3 495.4L124.1 493.3Z"/>
<path d="M131.0 491.9L133.2 494.0L131.0 496.1L128.8 494.0Z"/>
<path d="M133.3 491.2L135.5 493.3L133.3 495.4L131.2 493.3Z"/>
<path d="M125.1 494.2L127.2 496.3L125.1 498.4L122.9 496.3Z"/>
<path d="M128.6 494.7L130.8 496.8L128.6 498.9L126.4 496.8Z"/>
<path d="M132.2 494.7L134.3 496.8L132.2 498.9L130.0 496.8Z"/>
<path d="M127.4 496.6L129.6 498.7L127.4 500.8L125.2 498.7Z"/>
<path d="M130.5 496.6L132.7 498.7L130.5 500.8L128.3 498.7Z"/>
<path d="M134.5 496.6L136.7 498.7L134.5 500.8L132.3 498.7Z"/>
</g>
<g stroke="#000" fill="none">
<path stroke-width="0.75" d="M130.5 486.9V493.5M127.5 486.9H133.5M127.5 493.5H133.5"/>
<path stroke-width="1.3" d="M123.3 490.2H137.7"/>
</g>
<g fill="none" stroke="#1a1a1a" stroke-width="0.95">
<path d="M148.7 468.9L150.8 471.0L148.7 473.1L146.5 471.0Z"/>
<path d="M152.0 470.7L154.2 472.8L152.0 474.9L149.8 472.8Z"/>
<path d="M155.5 472.1L157.7 474.2L155.5 476.3L153.3 474.2Z"/>
<path d="M145.5 476.4L147.7 478.5L145.5 480.6L143.3 478.5Z"/>
<path d="M149.5 477.2L151.7 479.3L149.5 481.4L147.3 479.3Z"/>
<path d="M156.8 476.7L159.0 478.8L156.8 480.9L154.7 478.8Z"/>
<path d="M148.7 480.2L150.8 482.4L148.7 484.5L146.5 482.4Z"/>
<path d="M152.0 482.7L154.2 484.8L152.0 486.9L149.8 484.8Z"/>
<path d="M155.2 485.4L157.3 487.5L155.2 489.6L153.0 487.5Z"/>
</g>
<g stroke="#000" fill="none">
<path stroke-width="0.75" d="M152.2 476.8V481.4M149.2 476.8H155.2M149.2 481.4H155.2"/>
<path stroke-width="1.3" d="M145.0 479.1H159.39999999999998"/>
</g>
<text x="149.75" y="462.52" font-family='"Liberation Sans", Arial, sans-serif' font-weight="normal" font-size="8.2" fill="#111" stroke="#111" stroke-width="0.35">†</text>
<g fill="none" stroke="#1a1a1a" stroke-width="0.95">
<path d="M173.8 466.0L176.0 468.1L173.8 470.2L171.7 468.1Z"/>
<path d="M171.4 470.4L173.6 472.5L171.4 474.6L169.2 472.5Z"/>
<path d="M175.2 471.5L177.3 473.6L175.2 475.8L173.0 473.6Z"/>
<path d="M178.7 473.5L180.8 475.6L178.7 477.8L176.5 475.6Z"/>
<path d="M169.5 476.2L171.7 478.3L169.5 480.4L167.3 478.3Z"/>
<path d="M174.5 476.9L176.7 479.0L174.5 481.1L172.3 479.0Z"/>
<path d="M172.2 480.2L174.3 482.4L172.2 484.5L170.0 482.4Z"/>
<path d="M173.8 483.8L176.0 485.9L173.8 488.0L171.7 485.9Z"/>
<path d="M175.9 486.1L178.1 488.2L175.9 490.3L173.8 488.2Z"/>
<path d="M173.8 491.6L176.0 493.7L173.8 495.8L171.7 493.7Z"/>
</g>
<g stroke="#000" fill="none">
<path stroke-width="0.75" d="M174.0 476.3V481.9M171.0 476.3H177.0M171.0 481.9H177.0"/>
<path stroke-width="1.3" d="M166.8 479.1H181.2"/>
</g>
<text x="171.55" y="460.42" font-family='"Liberation Sans", Arial, sans-serif' font-weight="normal" font-size="8.2" fill="#111" stroke="#111" stroke-width="0.35">†</text>
<g stroke="#000" stroke-width="1.2" fill="none" stroke-linecap="square">
<path d="M258.4 406.7V506.7H407.9"/>
<path d="M333.2 406.7V506.7"/>
<path d="M254.39999999999998 406.7H258.4"/>
<path d="M254.39999999999998 426.7H258.4"/>
<path d="M254.39999999999998 446.7H258.4"/>
<path d="M254.39999999999998 466.7H258.4"/>
<path d="M254.39999999999998 486.7H258.4"/>
<path d="M254.39999999999998 506.7H258.4"/>
<path d="M272.2 506.7V510.5"/>
<path d="M293.3 506.7V510.5"/>
<path d="M315.1 506.7V510.5"/>
<path d="M350.7 506.7V510.5"/>
<path d="M371.9 506.7V510.5"/>
<path d="M393.3 506.7V510.5"/>
</g>
<g font-family='"Liberation Sans", Arial, sans-serif' font-weight="bold" font-size="7.2" fill="#000" stroke="#000" stroke-width="0.2">
<text x="253.2" y="409.09999999999997" text-anchor="end" font-size="7.6" stroke-width="0.3">100</text>
<text x="253.2" y="429.09999999999997" text-anchor="end" font-size="7.6" stroke-width="0.3">80</text>
<text x="253.2" y="449.09999999999997" text-anchor="end" font-size="7.6" stroke-width="0.3">60</text>
<text x="253.2" y="469.09999999999997" text-anchor="end" font-size="7.6" stroke-width="0.3">40</text>
<text x="253.2" y="489.09999999999997" text-anchor="end" font-size="7.6" stroke-width="0.3">20</text>
<text x="253.2" y="509.09999999999997" text-anchor="end" font-size="7.6" stroke-width="0.3">0</text>
<text transform="translate(272.2,519.30) scale(0.9,1)" text-anchor="middle" font-size="7.7">SL</text>
<text transform="translate(293.3,519.30) scale(0.9,1)" text-anchor="middle" font-size="7.7">H1</text>
<text transform="translate(315.1,519.30) scale(0.9,1)" text-anchor="middle" font-size="7.7">H2</text>
<text transform="translate(350.7,519.30) scale(0.9,1)" text-anchor="middle" font-size="7.7">SL</text>
<text transform="translate(371.9,519.30) scale(0.9,1)" text-anchor="middle" font-size="7.7">H1</text>
<text transform="translate(393.3,519.30) scale(0.9,1)" text-anchor="middle" font-size="7.7">H2</text>
</g>
<text transform="translate(235.8,457.0) rotate(-90)" text-anchor="middle" font-family='"Liberation Sans", Arial, sans-serif' font-weight="bold" font-size="8.4" fill="#000" stroke="#000" stroke-width="0.22">NOx (µmol.L<tspan dy="-4.1" font-size="5.2">-1</tspan><tspan dy="4.1">)</tspan></text>
<g fill="none" stroke="#1a1a1a" stroke-width="0.95">
<circle cx="272.2" cy="458.4" r="2.1"/>
<circle cx="271.0" cy="461.5" r="2.1"/>
<circle cx="273.7" cy="464.3" r="2.1"/>
<circle cx="267.2" cy="469.8" r="2.1"/>
<circle cx="271.1" cy="469.8" r="2.1"/>
<circle cx="275.0" cy="469.4" r="2.1"/>
<circle cx="268.5" cy="473.0" r="2.1"/>
<circle cx="273.3" cy="474.1" r="2.1"/>
<circle cx="277.2" cy="475.8" r="2.1"/>
<circle cx="272.2" cy="482.8" r="2.1"/>
</g>
<g stroke="#000" fill="none">
<path stroke-width="0.75" d="M272.2 467.5V473.0M269.2 467.5H275.2M269.2 473.0H275.2"/>
<path stroke-width="1.3" d="M265.0 470.2H279.4"/>
</g>
<text x="267.44" y="447.44" font-family='"Liberation Sans", Arial, sans-serif' font-weight="bold" font-size="14" fill="#111">*</text>
<text transform="translate(274.57,443.01) scale(0.82,1)" font-family='"Liberation Sans", Arial, sans-serif' font-weight="normal" font-size="11.2" fill="#111" stroke="#111" stroke-width="0.2">§</text>
<g fill="none" stroke="#1a1a1a" stroke-width="0.95">
<circle cx="292.9" cy="462.1" r="2.1"/>
<circle cx="295.5" cy="466.5" r="2.1"/>
<circle cx="288.5" cy="471.9" r="2.1"/>
<circle cx="292.4" cy="471.5" r="2.1"/>
<circle cx="297.2" cy="469.8" r="2.1"/>
<circle cx="290.7" cy="475.2" r="2.1"/>
<circle cx="294.0" cy="478.4" r="2.1"/>
<circle cx="295.5" cy="480.2" r="2.1"/>
<circle cx="289.6" cy="473.0" r="2.1"/>
</g>
<g stroke="#000" fill="none">
<path stroke-width="0.75" d="M293.3 469.3V473.7M290.3 469.3H296.3M290.3 473.7H296.3"/>
<path stroke-width="1.3" d="M286.1 471.5H300.5"/>
</g>
<g fill="none" stroke="#1a1a1a" stroke-width="0.95">
<circle cx="315.1" cy="430.5" r="2.1"/>
<circle cx="311.4" cy="441.0" r="2.1"/>
<circle cx="319.0" cy="445.8" r="2.1"/>
<circle cx="312.0" cy="455.6" r="2.1"/>
<circle cx="317.3" cy="454.5" r="2.1"/>
<circle cx="311.4" cy="458.9" r="2.1"/>
<circle cx="319.0" cy="460.0" r="2.1"/>
<circle cx="311.4" cy="462.8" r="2.1"/>
<circle cx="319.0" cy="466.5" r="2.1"/>
</g>
<g stroke="#000" fill="none">
<path stroke-width="0.75" d="M315.1 448.4V456.2M312.1 448.4H318.1M312.1 456.2H318.1"/>
<path stroke-width="1.3" d="M307.90000000000003 452.3H322.3"/>
</g>
<text x="305.94" y="424.64" font-family='"Liberation Sans", Arial, sans-serif' font-weight="bold" font-size="14" fill="#111">*</text>
<text x="313.85" y="420.22" font-family='"Liberation Sans", Arial, sans-serif' font-weight="normal" font-size="8.2" fill="#111" stroke="#111" stroke-width="0.35">†</text>
<text x="317.85" y="420.32" font-family='"Liberation Sans", Arial, sans-serif' font-weight="normal" font-size="8.2" fill="#111" stroke="#111" stroke-width="0.35">‡</text>
<text transform="translate(324.07,420.21) scale(0.82,1)" font-family='"Liberation Sans", Arial, sans-serif' font-weight="normal" font-size="11.2" fill="#111" stroke="#111" stroke-width="0.2">§</text>
<g fill="none" stroke="#1a1a1a" stroke-width="0.95">
<path d="M349.4 458.9L351.5 461.0L349.4 463.1L347.2 461.0Z"/>
<path d="M351.8 461.2L353.9 463.3L351.8 465.4L349.7 463.3Z"/>
<path d="M350.7 471.8L352.8 473.9L350.7 476.0L348.6 473.9Z"/>
<path d="M347.8 483.2L349.9 485.3L347.8 487.4L345.7 485.3Z"/>
<path d="M351.0 483.2L353.1 485.3L351.0 487.4L348.9 485.3Z"/>
<path d="M354.1 483.2L356.2 485.3L354.1 487.4L352.0 485.3Z"/>
<path d="M346.3 488.4L348.4 490.5L346.3 492.6L344.2 490.5Z"/>
<path d="M349.4 488.7L351.5 490.8L349.4 492.9L347.2 490.8Z"/>
<path d="M352.2 489.0L354.3 491.1L352.2 493.2L350.1 491.1Z"/>
<path d="M354.9 490.9L357.0 493.0L354.9 495.1L352.8 493.0Z"/>
<path d="M355.9 493.2L358.0 495.4L355.9 497.5L353.8 495.4Z"/>
</g>
<g stroke="#000" fill="none">
<path stroke-width="0.75" d="M350.7 479.0V486.0M347.7 479.0H353.7M347.7 486.0H353.7"/>
<path stroke-width="1.3" d="M343.5 482.5H357.9"/>
</g>
<g fill="none" stroke="#1a1a1a" stroke-width="0.95">
<path d="M372.2 462.2L374.3 464.4L372.2 466.5L370.1 464.4Z"/>
<path d="M373.8 464.9L375.9 467.0L373.8 469.1L371.7 467.0Z"/>
<path d="M376.4 467.5L378.5 469.6L376.4 471.8L374.2 469.6Z"/>
<path d="M367.5 469.9L369.6 472.0L367.5 474.1L365.4 472.0Z"/>
<path d="M369.8 471.4L371.9 473.5L369.8 475.6L367.7 473.5Z"/>
<path d="M372.5 472.4L374.6 474.5L372.5 476.6L370.4 474.5Z"/>
<path d="M370.6 476.2L372.8 478.3L370.6 480.4L368.5 478.3Z"/>
<path d="M373.3 477.7L375.4 479.8L373.3 481.9L371.2 479.8Z"/>
<path d="M376.1 479.0L378.2 481.1L376.1 483.2L374.0 481.1Z"/>
</g>
<g stroke="#000" fill="none">
<path stroke-width="0.75" d="M371.9 471.0V475.4M368.9 471.0H374.9M368.9 475.4H374.9"/>
<path stroke-width="1.3" d="M364.7 473.2H379.09999999999997"/>
</g>
<text x="367.35" y="455.52" font-family='"Liberation Sans", Arial, sans-serif' font-weight="normal" font-size="8.2" fill="#111" stroke="#111" stroke-width="0.35">†</text>
<text transform="translate(373.37,455.31) scale(0.82,1)" font-family='"Liberation Sans", Arial, sans-serif' font-weight="normal" font-size="11.2" fill="#111" stroke="#111" stroke-width="0.2">§</text>
<g fill="none" stroke="#1a1a1a" stroke-width="0.95">
<path d="M393.3 421.9L395.4 424.0L393.3 426.1L391.2 424.0Z"/>
<path d="M391.8 451.0L393.9 453.1L391.8 455.2L389.7 453.1Z"/>
<path d="M395.0 455.0L397.1 457.1L395.0 459.2L392.9 457.1Z"/>
<path d="M393.4 464.9L395.5 467.0L393.4 469.1L391.2 467.0Z"/>
<path d="M395.7 466.4L397.8 468.5L395.7 470.6L393.6 468.5Z"/>
<path d="M388.7 471.1L390.8 473.2L388.7 475.3L386.6 473.2Z"/>
<path d="M391.0 472.2L393.1 474.3L391.0 476.4L388.9 474.3Z"/>
<path d="M394.2 474.2L396.3 476.4L394.2 478.5L392.1 476.4Z"/>
<path d="M397.8 476.9L399.9 479.0L397.8 481.1L395.7 479.0Z"/>
<path d="M390.5 463.4L392.6 465.5L390.5 467.6L388.4 465.5Z"/>
</g>
<g stroke="#000" fill="none">
<path stroke-width="0.75" d="M393.3 459.7V470.1M390.3 459.7H396.3M390.3 470.1H396.3"/>
<path stroke-width="1.3" d="M386.1 464.9H400.5"/>
</g>
<text x="388.05" y="419.52" font-family='"Liberation Sans", Arial, sans-serif' font-weight="normal" font-size="8.2" fill="#111" stroke="#111" stroke-width="0.35">†</text>
<text transform="translate(393.97,419.31) scale(0.82,1)" font-family='"Liberation Sans", Arial, sans-serif' font-weight="normal" font-size="11.2" fill="#111" stroke="#111" stroke-width="0.2">§</text>
<text x="17.8" y="159.0" textLength="304.7" lengthAdjust="spacingAndGlyphs" font-family='"Liberation Sans", Arial, sans-serif' font-style="italic" font-size="6.8" fill="#111" stroke="#111" stroke-width="0.12">Condition (p = 0.034); Exercise (p = 0.001); Group x Condition (p = 0.046); Condition x Exercise (p = 0.008)</text>
<text x="18.0" y="345.9" textLength="109.8" lengthAdjust="spacingAndGlyphs" font-family='"Liberation Sans", Arial, sans-serif' font-style="italic" font-size="6.8" fill="#111" stroke="#111" stroke-width="0.12">Group (p = 0.024); Exercise (p = 0.007)</text>
<text x="17.8" y="545.2" textLength="359.9" lengthAdjust="spacingAndGlyphs" font-family='"Liberation Sans", Arial, sans-serif' font-style="italic" font-size="6.8" fill="#111" stroke="#111" stroke-width="0.12">Group (p = 0.001); Group x Condition (p = 0.045); Condition (p &lt; 0.001); Exercise (p &lt; 0.001); Condition x Exercise (p = 0.039)</text>
</svg></body></html>
